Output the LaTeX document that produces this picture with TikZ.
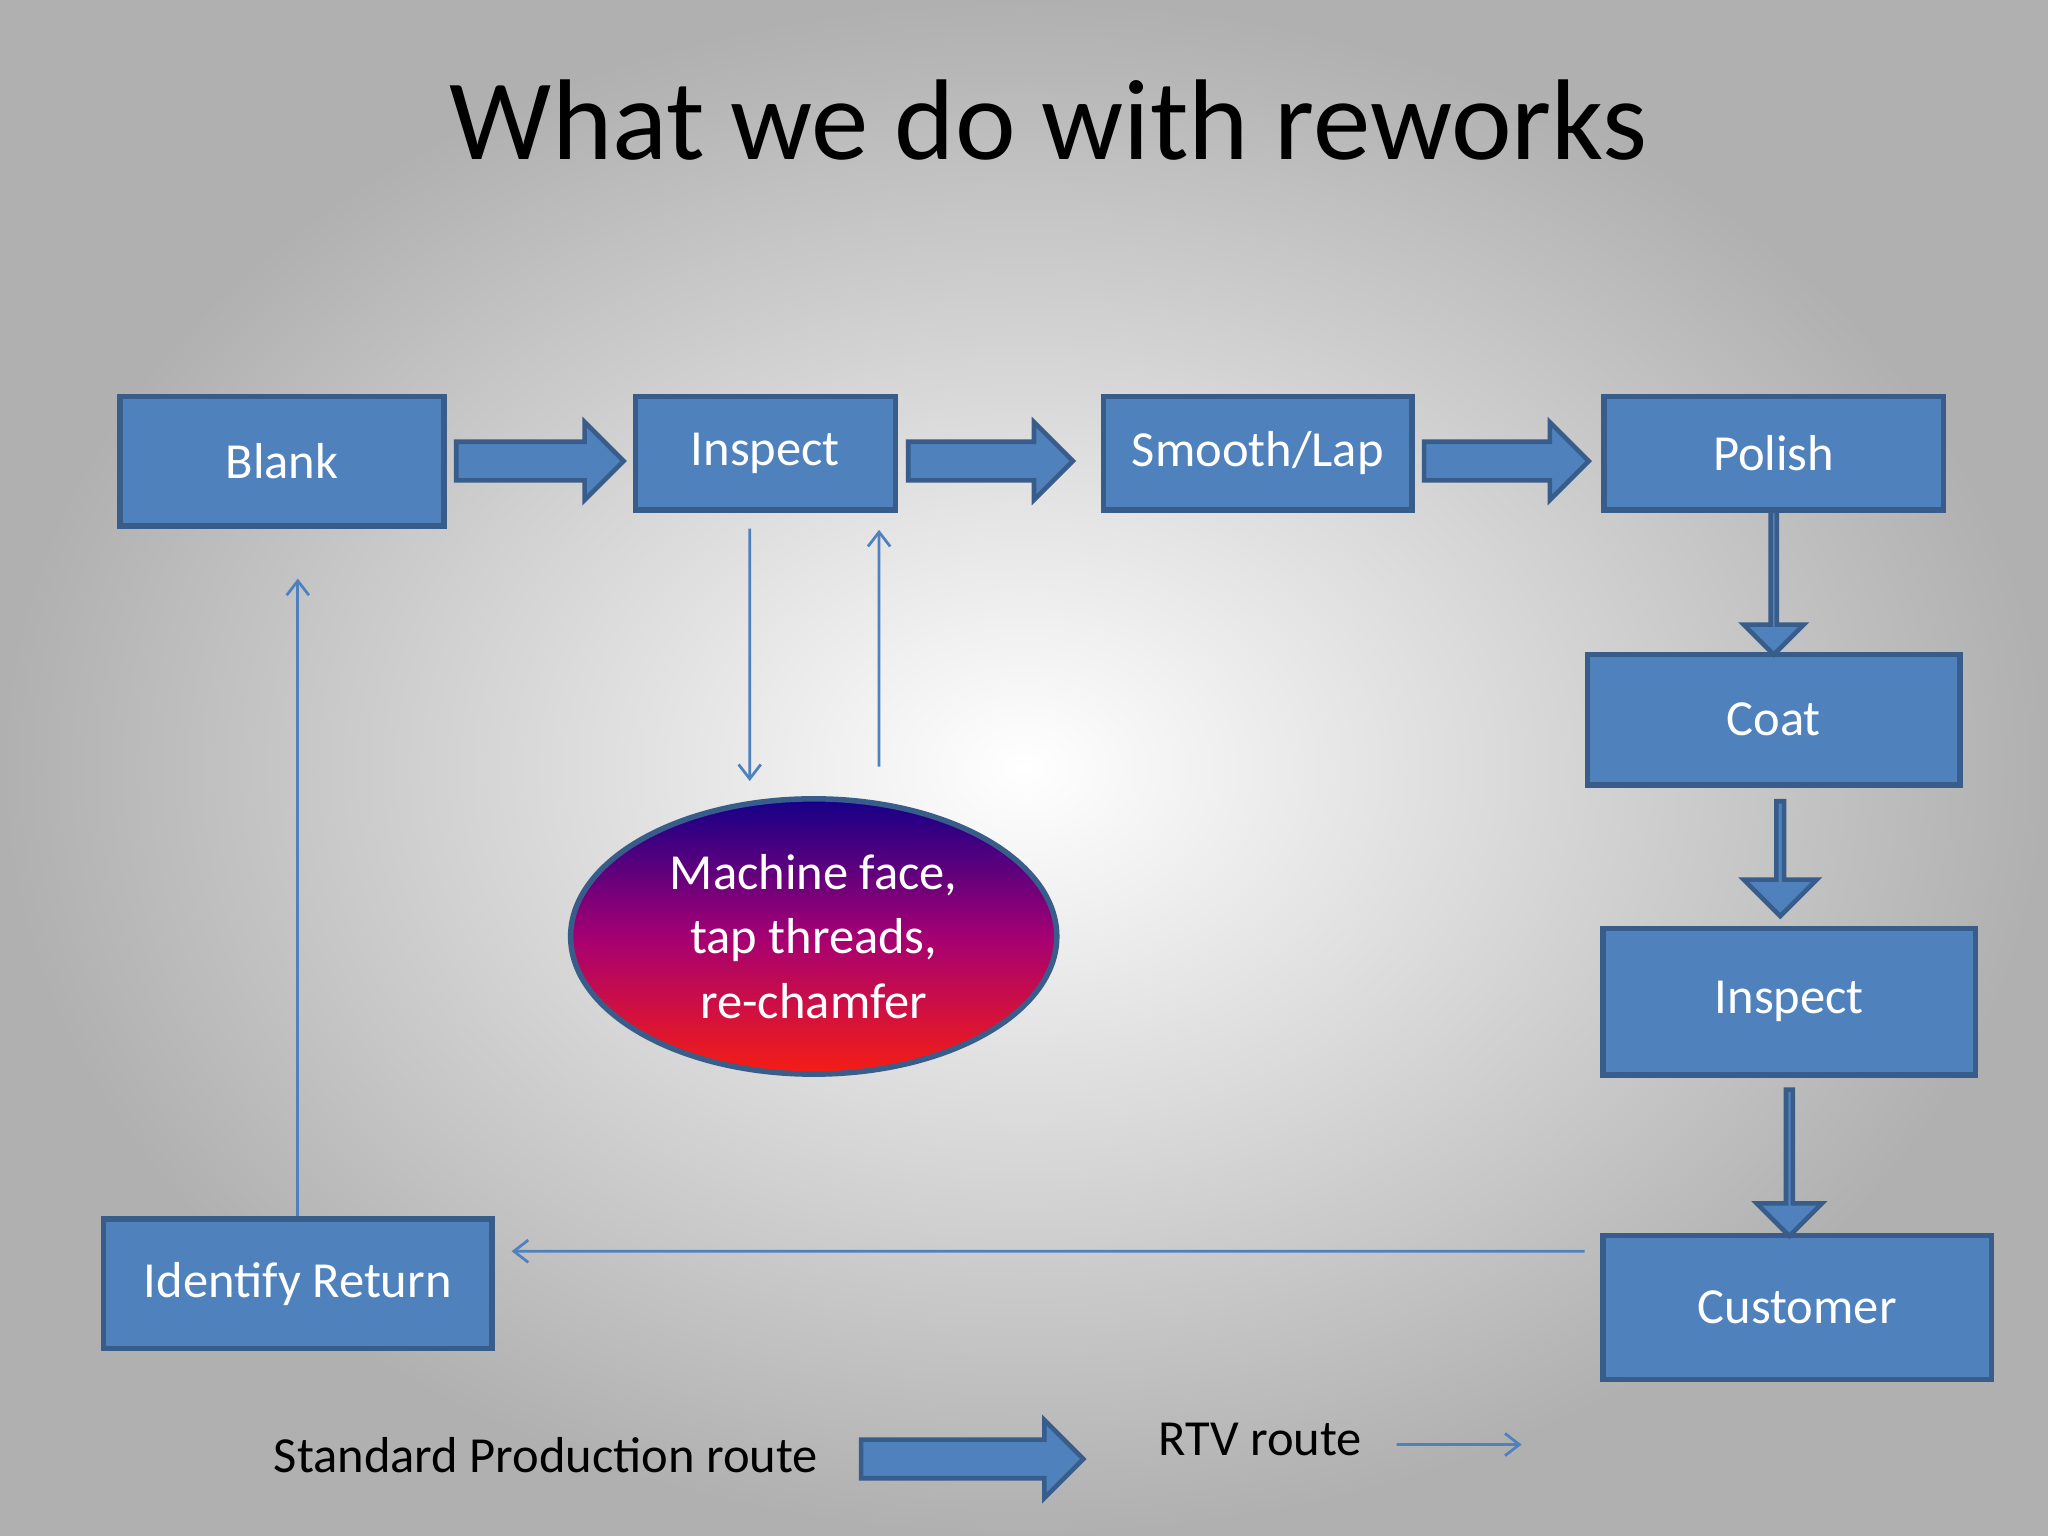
\documentclass[tikz,border=0pt]{standalone}
\usepackage{fontspec}
\setmainfont{Carlito}
\usetikzlibrary{shapes.geometric,shapes.arrows,arrows.meta}

\definecolor{boxblue}{RGB}{79,129,189}
\definecolor{boxline}{RGB}{56,93,138}

\tikzset{
  stage/.style={rectangle, draw=boxline, line width=1.2pt, fill=boxblue,
    text=white, font=\fontsize{11pt}{13pt}\selectfont, inner sep=0pt},
  fat/.style={single arrow, draw=boxline, line width=1pt, fill=boxblue,
    inner xsep=0pt, inner ysep=0.13cm, single arrow head extend=0.15cm,
    anchor=center},
  rtv/.style={-{Straight Barb[length=0.11cm,width=0.17cm]}, draw=boxblue, line width=0.6pt}
}

\begin{document}
\begin{tikzpicture}[x=0.01cm,y=-0.01cm]
		% Fondo
		\shade[inner color=white, outer color=gray!62] (0,0) rectangle (1568,1176);
		\useasboundingbox (0,0) rectangle (1568,1176);
		\node[font=\fontsize{25pt}{30pt}\selectfont] (title) at (803,92) {What we do with reworks};
		% Cajas
		\node[stage, minimum width=2.48cm, minimum height=0.99cm] (blank) at (216,353) {Blank};
		\node[stage, minimum width=1.99cm, minimum height=0.87cm] (insp) at (586,347) {Inspect};
		\node[stage, minimum width=2.36cm, minimum height=0.87cm] (smooth) at (963,347) {Smooth/Lap};
		\node[stage, minimum width=2.60cm, minimum height=0.87cm] (polish) at (1358,347) {Polish};
		\node[stage, minimum width=2.85cm, minimum height=1.00cm] (coat) at (1358,551) {Coat};
		\node[stage, minimum width=2.85cm, minimum height=1.12cm] (insptwo) at (1370,767) {Inspect};
		\node[stage, minimum width=2.97cm, minimum height=1.10cm] (customer) at (1376,1001) {Customer};
		\node[stage, minimum width=2.97cm, minimum height=0.99cm] (ident) at (228,983) {Identify Return};
		\node[ellipse, draw=boxline, line width=1.2pt, minimum width=3.72cm, minimum height=2.10cm,
			top color={rgb,255:red,20;green,0;blue,135}, bottom color={rgb,255:red,245;green,30;blue,20},
			middle color={rgb,255:red,165;green,0;blue,115}, text=white, align=center,
			font=\fontsize{11pt}{14pt}\selectfont] (machine) at (623,717) {Machine face,\\tap threads,\\re-chamfer};
		% Flechas gruesas
		\node[fat, minimum height=1.28cm, minimum width=0.57cm] (aone) at (406,353) {};
		\node[fat, minimum height=1.26cm, minimum width=0.57cm] (atwo) at (751,353) {};
		\node[fat, minimum height=1.26cm, minimum width=0.57cm] (athree) at (1146,353) {};
		\node[fat, shape border rotate=270, inner ysep=0.10cm, minimum height=1.10cm, minimum width=0.46cm] (afour) at (1358,445) {};
		\node[fat, shape border rotate=270, minimum height=0.88cm, minimum width=0.56cm] (afive) at (1363,656) {};
		\node[fat, shape border rotate=270, inner ysep=0.11cm, minimum height=1.12cm, minimum width=0.50cm] (asix) at (1370,889) {};
		% Rutas RTV
		\coordinate (mtop) at (574,598);
		\coordinate (mret) at (673,587);
		\coordinate (identtop) at (228,443);
		\draw[rtv] ([xshift=-0.12cm,yshift=-0.12cm]insp.south) -- (mtop);
		\draw[rtv] (mret) -- ([xshift=0.87cm,yshift=-0.13cm]insp.south);
		\draw[rtv] ([xshift=-0.12cm,yshift=0.43cm]customer.west) -- ([xshift=0.13cm,yshift=0.25cm]ident.east);
		\draw[rtv] (ident.north) -- (identtop);
		% Leyenda
		\node[font=\fontsize{11pt}{13pt}\selectfont] (legstd) at (418,1114) {Standard Production route};
		\node[fat, minimum height=1.70cm, minimum width=0.58cm] (legfat) at (737,1117) {};
		\node[font=\fontsize{11pt}{13pt}\selectfont] (legrtv) at (965,1102) {RTV route};
		\coordinate (legend) at (1165,1106);
		\draw[rtv] ([xshift=0.14cm,yshift=-0.04cm]legrtv.east) -- (legend);
	\end{tikzpicture}
\end{document}
